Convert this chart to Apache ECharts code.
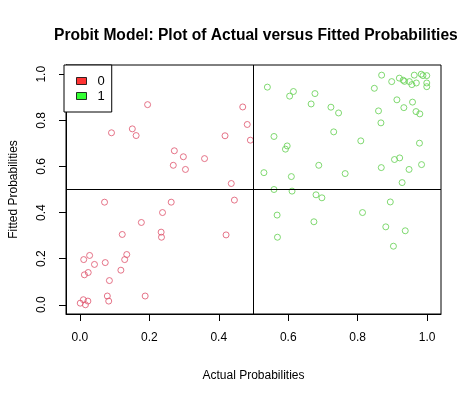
<!DOCTYPE html>
<html>
<head>
<meta charset="utf-8">
<script src="https://cdn.jsdelivr.net/npm/echarts@6/dist/echarts.min.js"></script>
<style>
  html, body { margin: 0; padding: 0; background: #fff; }
  #chart { width: 474px; height: 395px; }
</style>
</head>
<body>
<div id="chart"></div>
<script>
// tick labels shared by both axes
const ticks = [0, 0.2, 0.4, 0.6, 0.8, 1.0];

// class 0 - red points
const x0 = [0.195, 0.469, 0.482, 0.091, 0.151, 0.162, 0.418, 0.491, 0.272, 0.298, 0.359, 0.269, 0.304, 0.436,
  0.071, 0.263, 0.445, 0.238, 0.177, 0.122, 0.234, 0.235, 0.421, 0.028, 0.011, 0.135, 0.129, 0.042, 0.073,
  0.118, 0.024, 0.013, 0.085, 0.079, 0.083, 0.188, 0.010, 0.001, 0.023, 0.016];
const y0 = [0.868, 0.858, 0.782, 0.746, 0.763, 0.734, 0.733, 0.714, 0.668, 0.642, 0.634, 0.605, 0.587, 0.526,
  0.445, 0.445, 0.454, 0.400, 0.357, 0.305, 0.315, 0.293, 0.303, 0.214, 0.196, 0.218, 0.196, 0.175, 0.183,
  0.150, 0.140, 0.130, 0.105, 0.038, 0.016, 0.038, 0.022, 0.007, 0.016, 0.000];

// class 1 - green points
const x1 = [0.540, 0.615, 0.604, 0.677, 0.666, 0.723, 0.745, 0.848, 0.869, 0.898, 0.920, 0.931, 0.935, 0.949,
  0.956, 0.963, 0.969, 0.983, 0.988, 0.999, 0.999, 0.999, 0.913, 0.958, 0.933, 0.860, 0.968, 0.979, 0.867,
  0.731, 0.559, 0.597, 0.592, 0.809, 0.978, 0.906, 0.921, 0.530, 0.609, 0.688, 0.764, 0.868, 0.948, 0.984,
  0.928, 0.559, 0.611, 0.680, 0.697, 0.894, 0.568, 0.674, 0.814, 0.881, 0.937, 0.903, 0.569];
const y1 = [0.944, 0.925, 0.905, 0.916, 0.871, 0.857, 0.832, 0.939, 0.996, 0.968, 0.983, 0.974, 0.969, 0.968,
  0.955, 0.996, 0.962, 1.000, 0.994, 0.994, 0.962, 0.946, 0.889, 0.879, 0.855, 0.841, 0.838, 0.828, 0.789,
  0.750, 0.730, 0.689, 0.675, 0.711, 0.701, 0.630, 0.637, 0.573, 0.556, 0.605, 0.569, 0.595, 0.587, 0.608,
  0.530, 0.500, 0.493, 0.477, 0.464, 0.446, 0.389, 0.360, 0.400, 0.338, 0.321, 0.254, 0.293];

const cut = 0.5;

const font = 'Liberation Sans, Arial, sans-serif';

function pairs(xs, ys) {
  return xs.map((v, i) => [v, ys[i]]);
}

const chart = echarts.init(document.getElementById('chart'));

chart.setOption({
  animation: false,
  backgroundColor: '#fff',
  title: {
    text: 'Probit Model: Plot of Actual versus Fitted Probabilities',
    left: 49,
    top: 23,
    textStyle: { fontFamily: font, fontSize: 15.6, fontWeight: 'bold', color: '#000' }
  },
  grid: {
    left: 64, right: 33, top: 65, bottom: 81,
    show: true, borderColor: '#000', borderWidth: 1
  },
  legend: {
    orient: 'vertical',
    left: 64, top: 65,
    icon: 'rect',
    itemWidth: 10, itemHeight: 7,
    itemGap: 1,
    padding: [9, 7, 9, 12],
    borderColor: '#000', borderWidth: 1,
    backgroundColor: '#fff',
    textStyle: { fontFamily: font, fontSize: 13, color: '#000', lineHeight: 14, padding: [0, 0, 0, 6] },
    data: [
      { name: '0', itemStyle: { color: '#FF0000', borderColor: '#000', borderWidth: 1 } },
      { name: '1', itemStyle: { color: '#00FF00', borderColor: '#000', borderWidth: 1 } }
    ]
  },
  xAxis: {
    type: 'value',
    min: -0.04, max: 1.04,
    name: 'Actual Probabilities',
    nameLocation: 'middle',
    nameGap: 56,
    nameTextStyle: { fontFamily: font, fontSize: 12, color: '#000' },
    axisLine: { show: true, onZero: false, lineStyle: { color: '#000' } },
    splitLine: { show: false },
    axisTick: { show: true, inside: false, customValues: ticks, length: 7, lineStyle: { color: '#000' } },
    axisLabel: {
      customValues: ticks, margin: 18,
      fontFamily: font, fontSize: 12, color: '#000',
      formatter: v => v.toFixed(1)
    }
  },
  yAxis: {
    type: 'value',
    min: -0.04, max: 1.04,
    name: 'Fitted Probabilities',
    nameLocation: 'middle',
    nameGap: 46,
    nameTextStyle: { fontFamily: font, fontSize: 12, color: '#000' },
    axisLine: { show: true, onZero: false, lineStyle: { color: '#000' } },
    splitLine: { show: false },
    axisTick: { show: true, inside: false, customValues: ticks, length: 7, lineStyle: { color: '#000' } },
    axisLabel: {
      customValues: ticks, margin: 18, rotate: 90,
      fontFamily: font, fontSize: 12, color: '#000',
      formatter: v => v.toFixed(1)
    }
  },
  series: [
    {
      name: '0',
      type: 'scatter',
      symbol: 'circle',
      symbolSize: 6,
      itemStyle: { color: 'rgba(0,0,0,0)', borderColor: '#DF536B', borderWidth: 1 },
      data: pairs(x0, y0),
      markLine: {
        silent: true,
        symbol: 'none',
        label: { show: false },
        lineStyle: { color: '#000', width: 1, type: 'solid' },
        data: [{ xAxis: cut }, { yAxis: cut }]
      }
    },
    {
      name: '1',
      type: 'scatter',
      symbol: 'circle',
      symbolSize: 6,
      itemStyle: { color: 'rgba(0,0,0,0)', borderColor: '#61D04F', borderWidth: 1 },
      data: pairs(x1, y1)
    }
  ]
});
</script>
</body>
</html>
